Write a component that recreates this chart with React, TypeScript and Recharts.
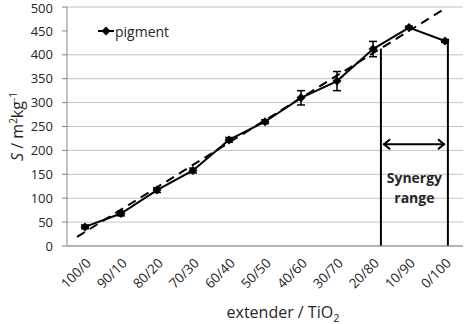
import React from 'react';
import { LineChart, Line, XAxis, YAxis, CartesianGrid, ErrorBar, ReferenceLine, ReferenceDot, Legend } from 'recharts';

const categories = ['100/0', '90/10', '80/20', '70/30', '60/40', '50/50', '40/60', '30/70', '20/80', '10/90', '0/100'];
const pigment = [40, 68, 117, 158, 222, 260, 310, 345, 412, 457, 429];
const pigmentErr = [4, 5, 5, 5, 5, 4, 15, 20, 16, 3, 3];
const trendX = [-0.22, 9.94];
const trendY = [19, 494];
const synergyX = [8.22, 10.08];
const synergyTop = [413, 429];
const arrowX = [8.28, 10.0];
const arrowY = 213;
const synergyLabel = { x: 9.15, y: 121 };
const yTicks = [0, 50, 100, 150, 200, 250, 300, 350, 400, 450, 500];

const font = '"Open Sans", sans-serif';
const axisGray = '#868686';
const gridGray = '#c4c4c4';
const ink = '#262626';

const seriesData = categories.map((name, i) => ({ x: i, name, S: pigment[i], err: pigmentErr[i] }));
const trendData = trendX.map((x, i) => ({ x, trend: trendY[i] }));
const edgeTicks = [...categories.map((_, i) => i - 0.5), categories.length - 0.5];
const centerTicks = categories.map((_, i) => i);
const domain = [-0.5, categories.length - 0.5];

const Diamond = ({ cx, cy }: any) => {
    if (cx == null || cy == null) return null;
    const r = 4.5;
    return <path d={`M${cx},${cy - r}L${cx + r},${cy}L${cx},${cy + r}L${cx - r},${cy}Z`} fill="#000" />;
};

const CategoryTick = ({ x, y, payload }: any) => {
    const px = x + 7;
    const py = y + 9;
    return (
        <text x={px} y={py} transform={`rotate(-45 ${px} ${py})`} textAnchor="end"
            fontSize={13.5} fontFamily={font} fill={ink}>
            {categories[payload.value]}
        </text>
    );
};

const YTitle = ({ viewBox }: any) => {
    const cx = 23;
    const cy = viewBox.y + viewBox.height / 2;
    return (
        <text x={cx} y={cy} transform={`rotate(-90 ${cx} ${cy})`} textAnchor="middle"
            fontSize={16} fontFamily={font} fill={ink}>
            <tspan fontStyle="italic">S</tspan>
            <tspan> / m</tspan>
            <tspan fontSize={10} dy={-6}>2</tspan>
            <tspan dy={6}>kg</tspan>
            <tspan fontSize={10} dy={-6}>-1</tspan>
        </text>
    );
};

const XTitle = () => (
    <text x={283} y={318} textAnchor="middle" fontSize={16} fontFamily={font} fill={ink}>
        <tspan>extender  / TiO</tspan>
        <tspan fontSize={11} dy={4}>2</tspan>
    </text>
);

const DoubleArrow = ({ x1, y1, x2, y2 }: any) => (
    <g stroke="#000" strokeWidth={2} fill="none">
        <line x1={x1} y1={y1} x2={x2} y2={y2} />
        <path d={`M${x1 + 7},${y1 - 5}L${x1 + 1},${y1}L${x1 + 7},${y1 + 5}`} />
        <path d={`M${x2 - 7},${y2 - 5}L${x2 - 1},${y2}L${x2 - 7},${y2 + 5}`} />
    </g>
);

const SynergyText = ({ cx, cy }: any) => (
    <text x={cx} textAnchor="middle" fontSize={14} fontWeight="bold" fontFamily={font} fill={ink}>
        <tspan x={cx} y={cy - 5}>Synergy</tspan>
        <tspan x={cx} y={cy + 15}>range</tspan>
    </text>
);

const LegendBox = () => (
    <div style={{ background: '#fff', display: 'flex', alignItems: 'center', height: 18, paddingLeft: 13, fontFamily: font, fontSize: 14, color: ink }}>
        <svg width={16} height={10}>
            <line x1={0} y1={5} x2={16} y2={5} stroke="#000" strokeWidth={2} />
            <path d="M8,0.5L12.5,5L8,9.5L3.5,5Z" fill="#000" />
        </svg>
        <span style={{ marginLeft: 1 }}>pigment</span>
    </div>
);

export default function App() {
    return (
        <div style={{ position: 'absolute', left: 0, top: 0 }}>
            <LineChart width={465} height={324} margin={{ top: 7, right: 2, left: 0, bottom: 76 }}>
                <CartesianGrid vertical={false} stroke={gridGray} xAxisId="edges" />
                <XAxis xAxisId="edges" type="number" dataKey="x" domain={domain} ticks={edgeTicks}
                    interval={0} height={1} tickFormatter={() => ''} stroke={axisGray} tickSize={5} />
                <XAxis xAxisId="main" type="number" dataKey="x" domain={domain} ticks={centerTicks}
                    interval={0} height={1} axisLine={false} tickLine={false} tick={<CategoryTick />}
                    label={{ content: <XTitle /> }} />
                <YAxis domain={[0, 500]} ticks={yTicks} width={67} stroke={axisGray} tickSize={5} tickMargin={9}
                    tick={{ fontSize: 13, fontFamily: font, fill: ink }} label={{ content: <YTitle /> }} />
                <Legend layout="vertical" align="center" verticalAlign="middle" content={<LegendBox />}
                    wrapperStyle={{ position: 'absolute', left: 85, top: 22, width: 95 }} />
                <Line xAxisId="main" data={trendData} dataKey="trend" stroke="#000" strokeWidth={2}
                    strokeDasharray="9 6" dot={false} activeDot={false} isAnimationActive={false} legendType="none" />
                <Line xAxisId="main" data={seriesData} dataKey="S" name="pigment" stroke="#000" strokeWidth={2}
                    dot={<Diamond />} activeDot={false} isAnimationActive={false}>
                    <ErrorBar dataKey="err" direction="y" width={4} stroke="#000" strokeWidth={1.5} />
                </Line>
                {synergyX.map((x, i) => (
                    <ReferenceLine key={i} xAxisId="main" segment={[{ x, y: 0 }, { x, y: synergyTop[i] }]}
                        stroke="#000" strokeWidth={2} />
                ))}
                <ReferenceLine xAxisId="main" segment={[{ x: arrowX[0], y: arrowY }, { x: arrowX[1], y: arrowY }]}
                    shape={<DoubleArrow />} />
                <ReferenceDot xAxisId="main" x={synergyLabel.x} y={synergyLabel.y} r={0}
                    shape={<SynergyText />} />
            </LineChart>
        </div>
    );
}
